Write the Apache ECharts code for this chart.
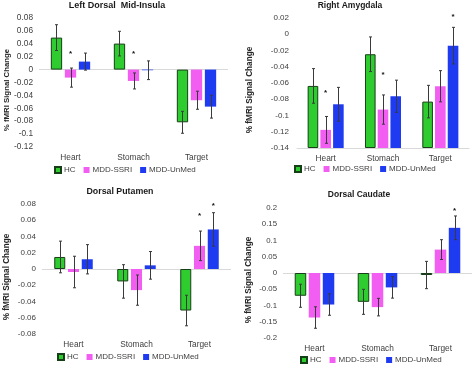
<!DOCTYPE html>
<html><head><meta charset="utf-8">
<script src="https://cdn.jsdelivr.net/npm/echarts@6/dist/echarts.min.js"></script>
<style>html,body{margin:0;padding:0;background:#fff}#c{width:474px;height:365px}</style>
</head><body><div id="c"></div>
<script>
// ---- data ----
const categories = ['Heart', 'Stomach', 'Target'];
const groupNames = ['HC', 'MDD-SSRI', 'MDD-UnMed'];
const panelTitles = ['Left Dorsal  Mid-Insula', 'Right Amygdala', 'Dorsal Putamen', 'Dorsal Caudate'];
const yAxisTitle = '% fMRI Signal Change';
const starText = '*';

// means per group: [HC], [MDD-SSRI], [MDD-UnMed], each over categories
const insulaMean = [[0.0496, 0.0403, -0.0817], [-0.0124, -0.0176, -0.0475], [0.0124, -0.0010, -0.0574]];
const insulaErr  = [[0.0200, 0.0191, 0.0170], [0.0148, 0.0124, 0.0140], [0.0132, 0.0145, 0.0178]];
const insulaStars = [[0, 1, 0.028], [1, 1, 0.028]];
const insulaTicks = { min: -0.12, max: 0.08, step: 0.02 };

const amygMean = [[-0.0636, -0.0246, -0.0829], [-0.1177, -0.0927, -0.0640], [-0.0862, -0.0763, -0.0140]];
const amygErr  = [[0.0213, 0.0213, 0.0200], [0.0165, 0.0180, 0.0192], [0.0208, 0.0198, 0.0225]];
const amygStars = [[0, 1, -0.069], [1, 1, -0.0476], [2, 2, 0.024]];
const amygTicks = { min: -0.14, max: 0.02, step: 0.02 };

const putamenMean = [[0.0148, -0.0153, -0.0511], [-0.0037, -0.0260, 0.0285], [0.0120, 0.0045, 0.0487]];
const putamenErr  = [[0.0195, 0.0206, 0.0188], [0.0194, 0.0186, 0.0182], [0.0180, 0.0170, 0.0206]];
const putamenStars = [[2, 1, 0.0676], [2, 2, 0.080]];
const putamenTicks = { min: -0.08, max: 0.08, step: 0.02 };

const caudateMean = [[-0.070, -0.0887, -0.0062], [-0.137, -0.105, 0.072], [-0.097, -0.0443, 0.139]];
const caudateErr  = [[0.0355, 0.0385, 0.042], [0.033, 0.027, 0.0305], [0.033, 0.033, 0.0365]];
const caudateStars = [[2, 2, 0.198]];
const caudateTicks = { min: -0.2, max: 0.2, step: 0.05 };

// ---- styling / layout ----
const colors = ['#2fcc2f', '#f25ef2', '#1f3bf2'];
const FONT = '"Liberation Sans", Arial, sans-serif';
const panels = [
  { mean: insulaMean, err: insulaErr, stars: insulaStars, ticks: insulaTicks, base: 0,
    grid: { left: 39, top: 18, width: 189, height: 129 }, bw: 11.3, gap: 0.24,
    title: [117, 6, 9], yname: [6.5, 90, 7.8], legend: [54, 166], tick: 8.3, cat: 8.3 },
  { mean: amygMean, err: amygErr, stars: amygStars, ticks: amygTicks, base: -0.14,
    grid: { left: 297, top: 18, width: 172, height: 130 }, bw: 10.6, gap: 0.2,
    title: [350, 6, 8.5], yname: [250, 90, 8.2], legend: [294, 165], tick: 8, cat: 8.3 },
  { mean: putamenMean, err: putamenErr, stars: putamenStars, ticks: putamenTicks, base: 0,
    grid: { left: 42, top: 204, width: 189, height: 130 }, bw: 11, gap: 0.25,
    title: [120, 192, 8.8], yname: [6.5, 277, 8.2], legend: [57, 353], tick: 8, cat: 8.3 },
  { mean: caudateMean, err: caudateErr, stars: caudateStars, ticks: caudateTicks, base: 0,
    grid: { left: 283, top: 208, width: 189, height: 130 }, bw: 11.5, gap: 0.22,
    title: [359, 195, 8.5], yname: [249, 280, 8.2], legend: [300, 356], tick: 7.8, cat: 8.3 }
];

const chart = echarts.init(document.getElementById('c'), null, { renderer: 'canvas' });
const option = { animation: false, backgroundColor: '#fff', grid: [], xAxis: [], yAxis: [], series: [], legend: [], graphic: [] };

panels.forEach((p, pi) => {
  option.grid.push(Object.assign({ containLabel: false }, p.grid));
  option.xAxis.push({
    type: 'category', gridIndex: pi, data: categories,
    axisLine: { show: p.base !== 0, onZero: false, lineStyle: { color: '#d9d9d9', width: 1 } },
    axisTick: { show: false },
    axisLabel: { fontFamily: FONT, fontSize: p.cat, color: '#404040', margin: 7 }
  });
  option.yAxis.push({
    type: 'value', gridIndex: pi, min: p.ticks.min, max: p.ticks.max, interval: p.ticks.step,
    startValue: p.base,
    axisLine: { show: false }, axisTick: { show: false }, splitLine: { show: false },
    axisLabel: { fontFamily: FONT, fontSize: p.tick, color: '#404040', margin: pi === 1 ? 8 : 6,
      formatter: v => String(Math.round(v * 1000) / 1000) }
  });
  const off = p.bw * (1 + p.gap);
  groupNames.forEach((name, gi) => {
    const s = {
      type: 'bar', name: name, xAxisIndex: pi, yAxisIndex: pi,
      data: p.mean[gi], barWidth: p.bw, barGap: (p.gap * 100) + '%',
      itemStyle: gi === 0 ? { color: colors[0], borderColor: '#173f17', borderWidth: 1 } : { color: colors[gi] },
      z: 2
    };
    if (gi === 0 && p.base === 0) {
      s.markLine = { silent: true, symbol: 'none', label: { show: false },
        lineStyle: { color: '#d9d9d9', width: 1, type: 'solid' }, data: [{ yAxis: 0 }], z: 1 };
    }
    option.series.push(s);
    // error bars
    option.series.push({
      type: 'custom', name: name + ' err', xAxisIndex: pi, yAxisIndex: pi, z: 5, silent: true,
      data: categories.map((c, ci) => [ci, p.mean[gi][ci], p.err[gi][ci]]),
      renderItem: (params, api) => {
        const ci = api.value(0), m = api.value(1), e = api.value(2);
        const top = api.coord([ci, m + e]);
        const bot = api.coord([ci, m - e]);
        const x = Math.round(top[0] + (gi - 1) * off) + 0.5;
        const cap = 1.5;
        const st = { stroke: '#3a3a3a', lineWidth: 1 };
        return { type: 'group', children: [
          { type: 'line', shape: { x1: x, y1: top[1], x2: x, y2: bot[1] }, style: st },
          { type: 'line', shape: { x1: x - cap, y1: top[1], x2: x + cap, y2: top[1] }, style: st },
          { type: 'line', shape: { x1: x - cap, y1: bot[1], x2: x + cap, y2: bot[1] }, style: st }
        ] };
      }
    });
  });
  // significance stars
  option.series.push({
    type: 'custom', name: 'stars', xAxisIndex: pi, yAxisIndex: pi, z: 6, silent: true,
    data: p.stars,
    renderItem: (params, api) => {
      const pt = api.coord([api.value(0), api.value(2)]);
      const x = pt[0] + (api.value(1) - 1) * off;
      return { type: 'text', style: { text: starText, x: x, y: pt[1] + 2, align: 'center', verticalAlign: 'middle',
        font: 'bold 8px ' + FONT, fill: '#111' } };
    }
  });
  option.legend.push({
    data: groupNames, left: p.legend[0], top: p.legend[1], icon: 'rect', itemWidth: 6, itemHeight: 6,
    itemGap: 8, padding: 0, selectedMode: false,
    textStyle: { fontFamily: FONT, fontSize: 8, color: '#404040', padding: [0, 0, 0, -2] }
  });
  option.graphic.push({
    type: 'text', x: p.title[0], y: p.title[1], silent: true,
    style: { text: panelTitles[pi], align: 'center', verticalAlign: 'middle', font: 'bold ' + p.title[2] + 'px ' + FONT, fill: '#1a1a1a' }
  });
  option.graphic.push({
    type: 'text', x: p.yname[0], y: p.yname[1], rotation: Math.PI / 2, silent: true,
    style: { text: yAxisTitle, align: 'center', verticalAlign: 'middle', font: 'bold ' + p.yname[2] + 'px ' + FONT, fill: '#262626' }
  });
});

chart.setOption(option);
</script>
</body></html>
